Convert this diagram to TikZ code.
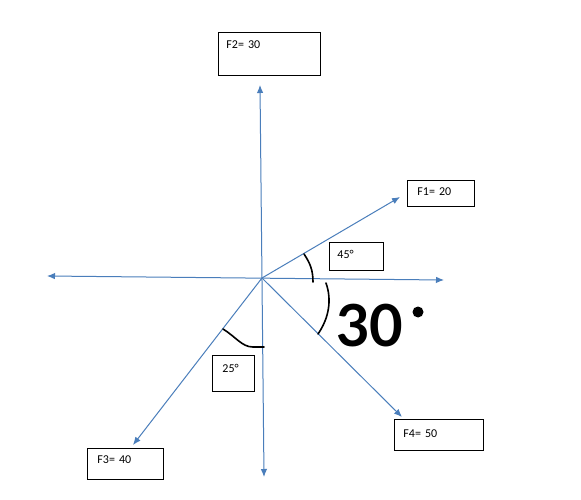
\documentclass[tikz,border=0pt]{standalone}
\usepackage{fontspec}
\setmainfont{Carlito}
\newfontfamily\handfont{Lato}
\usetikzlibrary{arrows.meta}
\definecolor{axisblue}{HTML}{4A7EBB}
\tikzset{
  vec/.style={draw=axisblue, line width=1pt, -{Latex[length=8pt,width=6.5pt]}},
  dvec/.style={draw=axisblue, line width=1pt, {Latex[length=8pt,width=6.5pt]}-{Latex[length=8pt,width=6.5pt]}},
  lbox/.style={draw=black, line width=0.9pt, anchor=north west, inner ysep=0pt, align=left, font=\fontsize{12}{13}\selectfont},
  anglearc/.style={draw=black, line width=1.6pt, line cap=round}
}
\begin{document}
\begin{tikzpicture}[x=1pt,y=-1pt]
\useasboundingbox[fill=white] (0,0) rectangle (581,500);
% origin and axis ends
\coordinate (O) at (262,278);
\coordinate (top) at (260,85);
\coordinate (bot) at (264,477);
\coordinate (left) at (47,276);
\coordinate (right) at (444,280);
% boxes
\node[lbox, inner xsep=8pt, text width=86pt, text height=16pt, text depth=27pt] (f2) at (218,32) {F2= 30};
\node[lbox, inner xsep=10pt, text width=47pt, text height=15pt, text depth=11pt] (f1) at (407,180) {F1= 20};
\node[lbox, inner xsep=8pt, text width=38pt, text height=16pt, text depth=12pt] (a45) at (329,242) {45°};
\node[lbox, inner xsep=10pt, text width=22pt, text height=17pt, text depth=19pt] (a25) at (212,355) {25°};
\node[lbox, inner xsep=10pt, text width=56pt, text height=15pt, text depth=16pt] (f3) at (87,448) {F3= 40};
\node[lbox, inner xsep=9pt, text width=71pt, text height=18pt, text depth=13pt] (f4) at (394,419) {F4= 50};
% tips of force vectors
\coordinate (t1) at (400,197);
\coordinate (t3) at (133,445);
\coordinate (t4) at (402,417);
% axes
\draw[dvec] (top) -- (bot);
\draw[dvec] (left) -- (right);
% forces
\draw[vec] (O) -- (t1);
\draw[vec] (O) -- (t3);
\draw[vec] (O) -- (t4);
% angle arcs
\draw[anglearc] (304,254) .. controls (310,263) and (313,270) .. (313,282);
\draw[anglearc] (326,283) .. controls (332,300) and (329,318) .. (318,334);
\draw[anglearc] (223,329) .. controls (236,337) and (242,347) .. (253,347) -- (264,347);
% handwritten 30 degree
\node[anchor=base west, inner sep=0pt, font=\handfont\bfseries\fontsize{58}{60}\selectfont] (h30) at (336,346) {30};
\fill[black] (418,312) circle (5.5pt);
\end{tikzpicture}
\end{document}
